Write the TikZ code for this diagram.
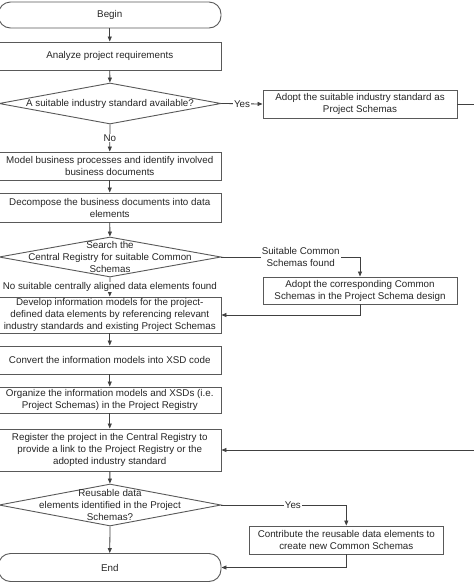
\documentclass[tikz,border=0pt]{standalone}
\usepackage{fontspec}
\setmainfont{Liberation Sans}
\usetikzlibrary{shapes.geometric,arrows.meta}
\begin{document}
\begin{tikzpicture}[x=1pt,y=-1pt,
  every node/.style={font=\fontsize{9.8}{12}\selectfont, text=black!85},
  box/.style={draw=black!65, line width=0.9pt, rectangle, minimum width=222.5pt, inner sep=0pt, align=center},
  sidebox/.style={box, minimum width=194pt},
  term/.style={box, rounded corners=12pt},
  dia/.style={draw=black!65, line width=0.9pt, diamond, inner sep=0pt, minimum width=222pt},
  dtext/.style={align=center, inner sep=0pt},
  lab/.style={fill=white, inner sep=1pt, align=center},
  conn/.style={draw=black!75, line width=0.8pt},
  arr/.style={conn, -{Triangle[length=5pt,width=4pt]}}
]
\useasboundingbox (0,0) rectangle (474,582);
\clip (0,0) rectangle (474,582);
\fill[white] (0,0) rectangle (474,582);

\node[term, minimum height=26pt] (begin) at (109.75,15) {Begin};
\node[box, minimum height=28pt] (analyze) at (109.75,56) {Analyze project requirements};
\node[dia, minimum height=41pt] (d1) at (110,103.5) {};
\node[dtext] (d1t) at (d1) {A suitable industry standard available?};
\node[sidebox, minimum height=28pt] (adoptstd) at (360,104) {Adopt the suitable industry standard as\\Project Schemas};
\node[box, minimum height=28pt] (model) at (109.75,166) {Model business processes and identify involved\\business documents};
\node[box, minimum height=29pt] (decomp) at (109.75,207.5) {Decompose the business documents into data\\elements};
\node[dia, minimum height=40pt] (d2) at (110,257) {};
\node[dtext] (d2t) at (d2) {Search the\\Central Registry for suitable Common\\Schemas};
\node[sidebox, minimum height=27pt] (adoptcs) at (360,290.5) {Adopt the corresponding Common\\Schemas in the Project Schema design};
\node[box, minimum height=36pt] (develop) at (109.75,315) {Develop information models for the project-\\defined data elements by referencing relevant\\industry standards and existing Project Schemas};
\node[box, minimum height=28pt] (convert) at (109.75,360) {Convert the information models into XSD code};
\node[box, minimum height=26pt] (organize) at (109.75,400) {Organize the information models and XSDs (i.e.\\Project Schemas) in the Project Registry};
\node[box, minimum height=42pt] (register) at (109.75,450) {Register the project in the Central Registry to\\provide a link to the Project Registry or the\\adopted industry standard};
\node[dia, minimum height=42pt] (d3) at (110,505) {};
\node[dtext] (d3t) at (d3) {Reusable data\\elements identified in the Project\\Schemas?};
\node[sidebox, minimum height=28pt] (contrib) at (346.3,540) {Contribute the reusable data elements to\\create new Common Schemas};
\node[term, minimum height=28pt] (end) at (109.75,567.5) {End};

\coordinate (rr) at (477,0);

\draw[arr] (begin) -- (analyze);
\draw[arr] (analyze) -- (d1);
\draw[arr] (d1.east) -- node[lab] (yes1) {Yes} (adoptstd.west);
\draw[arr] (adoptstd.east) -- (adoptstd.east -| rr) -- (register.east -| rr) -- (register.east);
\draw[arr] (d1.south) -- node[lab] (no1) {No} (model.north);
\draw[arr] (model) -- (decomp);
\draw[arr] (decomp) -- (d2);
\draw[arr] (d2.east) -| node[lab, pos=0.286] (found) {Suitable Common\\Schemas found} (adoptcs.north);
\draw[arr] (adoptcs.south) |- (develop.east);
\draw[arr] (d2.south) -- node[lab, inner sep=0.5pt] (nofound) {No suitable centrally aligned data elements found} (develop.north);
\draw[arr] (develop) -- (convert);
\draw[arr] (convert) -- (organize);
\draw[arr] (organize) -- (register);
\draw[arr] (register) -- (d3);
\draw[arr] (d3.east) -| node[lab, pos=0.286] (yes2) {Yes} (contrib.north);
\draw[arr] (contrib.south) |- (end.east);
\draw[arr] (d3.south) -- (end.north);
\end{tikzpicture}
\end{document}
